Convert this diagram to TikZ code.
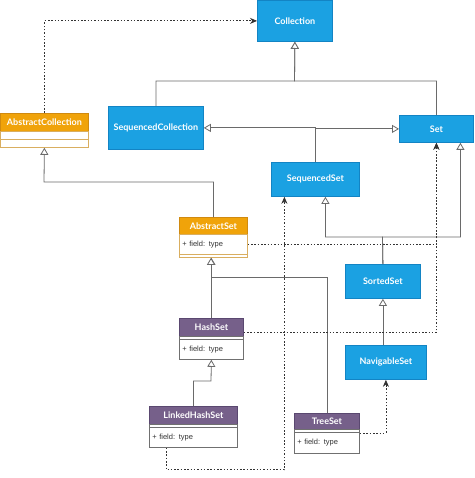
\documentclass[tikz,border=0pt]{standalone}
\usepackage{fontspec}
\usetikzlibrary{arrows.meta}
\newfontfamily\latofont{Lato}
\newfontfamily\attrfont{Liberation Sans}[Ligatures=NoCommon]
\definecolor{ifill}{HTML}{1BA1E2}
\definecolor{idraw}{HTML}{1384C4}
\definecolor{ofill}{HTML}{F0A30A}
\definecolor{odraw}{HTML}{D08A10}
\definecolor{obody}{HTML}{D9AE60}
\definecolor{pfill}{HTML}{76608A}
\definecolor{pdraw}{HTML}{5A4870}
\definecolor{pbody}{HTML}{707070}
\definecolor{lgray}{HTML}{6A6A6A}
\definecolor{dgray}{HTML}{333333}
\begin{document}
\begin{tikzpicture}[x=1pt,y=-1pt,
  box/.style={inner sep=0pt, anchor=north west, line width=0.8pt},
  hfont/.style={font=\latofont\bfseries\fontsize{9}{10}\selectfont},
  iface/.style={box, hfont, draw=idraw, fill=ifill, text=white},
  ohead/.style={box, hfont, draw=odraw, fill=ofill, text=white},
  phead/.style={box, hfont, draw=pdraw, fill=pfill, text=white},
  obodyc/.style={box, draw=obody, fill=white, inner xsep=3pt, align=left, text=dgray, font=\attrfont\fontsize{7.5}{9}\selectfont},
  pbodyc/.style={box, draw=pbody, fill=white, inner xsep=3pt, align=left, text=dgray, font=\attrfont\fontsize{7.5}{9}\selectfont},
  inherit/.style={draw=lgray, line width=0.8pt, -{Triangle[open, length=7pt, width=8pt, fill=white]}},
  realize/.style={draw=dgray, line width=0.8pt, dash pattern=on 1.5pt off 1.8pt, -{Stealth[length=7pt, width=6pt]}},
  plain/.style={draw=lgray, line width=0.8pt}
]
\useasboundingbox (0,0) rectangle (474,478);
\fill[white] (0,0) rectangle (474,478);

% interfaces
\node[iface, minimum width=75pt, minimum height=41pt] (coll) at (257,0) {Collection};
\node[iface, minimum width=95pt, minimum height=43pt] (seqc) at (108,106) {SequencedCollection};
\node[iface, minimum width=74pt, minimum height=27pt] (set) at (399,115) {Set};
\node[iface, minimum width=88pt, minimum height=34pt] (sset) at (271,162) {SequencedSet};
\node[iface, minimum width=75pt, minimum height=34pt] (sorted) at (345,264) {SortedSet};
\node[iface, minimum width=81pt, minimum height=34pt] (nav) at (345,345) {NavigableSet};

% AbstractCollection
\node[ohead, minimum width=88pt, minimum height=18pt] (acoll) at (0,113) {AbstractCollection};
\node[obodyc, text width=82pt, minimum height=8pt] (acollA) at (0,131) {};
\node[obodyc, text width=82pt, minimum height=8pt] (acollB) at (0,139) {};

% AbstractSet
\node[ohead, minimum width=68pt, minimum height=17pt] (aset) at (179,217) {AbstractSet};
\node[obodyc, text width=62pt, minimum height=20pt] (asetA) at (179,234) {+ field: type};
\node[obodyc, text width=62pt, minimum height=3pt] (asetB) at (179,254) {};

% HashSet
\node[phead, minimum width=64pt, minimum height=18pt] (hs) at (179,318) {HashSet};
\node[pbodyc, text width=58pt, minimum height=2.5pt] (hsB) at (179,336) {};
\node[pbodyc, text width=58pt, minimum height=20.5pt] (hsA) at (179,338.5) {+ field: type};

% LinkedHashSet
\node[phead, minimum width=88pt, minimum height=18pt] (lhs) at (149,406) {LinkedHashSet};
\node[pbodyc, text width=82pt, minimum height=2.5pt] (lhsB) at (149,424) {};
\node[pbodyc, text width=82pt, minimum height=20.5pt] (lhsA) at (149,426.5) {+ field: type};

% TreeSet
\node[phead, minimum width=65pt, minimum height=16pt] (ts) at (294,413) {TreeSet};
\node[pbodyc, text width=59pt, minimum height=3pt] (tsB) at (294,429) {};
\node[pbodyc, text width=59pt, minimum height=21pt] (tsA) at (294,432) {+ field: type};

% junctions
\coordinate (j1) at (294.5,81);
\coordinate (j2) at (382.5,237);
\coordinate (j4) at (44,182);
\coordinate (jt) at (211,277);
\coordinate (jl) at (211,381);

% inheritance to Collection
\draw[inherit] (seqc.north) |- (j1) -- (coll.south);
\draw[inherit] (set.north) |- (j1) -- (coll.south);

% SequencedSet -> SequencedCollection, Set
\draw[inherit] (sset.north) |- (seqc.east);
\draw[inherit] (sset.north) |- (set.west);

% SortedSet -> SequencedSet, Set
\draw[inherit] (sorted.north) -- (j2) -| ([xshift=10pt]sset.south);
\draw[inherit] (sorted.north) -- (j2) -| ([xshift=24pt]set.south);

% NavigableSet -> SortedSet
\draw[inherit] (nav.north -| sorted.south) -- (sorted.south);

% AbstractSet -> AbstractCollection
\draw[inherit] (aset.north) |- (j4) -- (acollB.south);

% HashSet, TreeSet -> AbstractSet
\draw[inherit] (hs.north) -- (hs.north |- asetB.south);
\draw[inherit] (ts.north) |- (jt) -- (jt |- asetB.south);

% LinkedHashSet -> HashSet
\draw[inherit] (lhs.north) |- (jl) -- (hsA.south);

% realizations (dashed)
\draw[realize] (acoll.north) |- (coll.west);
\draw[realize] (asetA.east) -| (set.south);
\draw[realize] ([yshift=-5pt]hs.east) -| (set.south);
\draw[realize] ([xshift=-27pt]lhsA.south) -- ++(0,22) -| ([xshift=-31pt]sset.south);
\draw[realize] ([yshift=-1pt]tsA.north east) -| (nav.south);
\end{tikzpicture}
\end{document}
